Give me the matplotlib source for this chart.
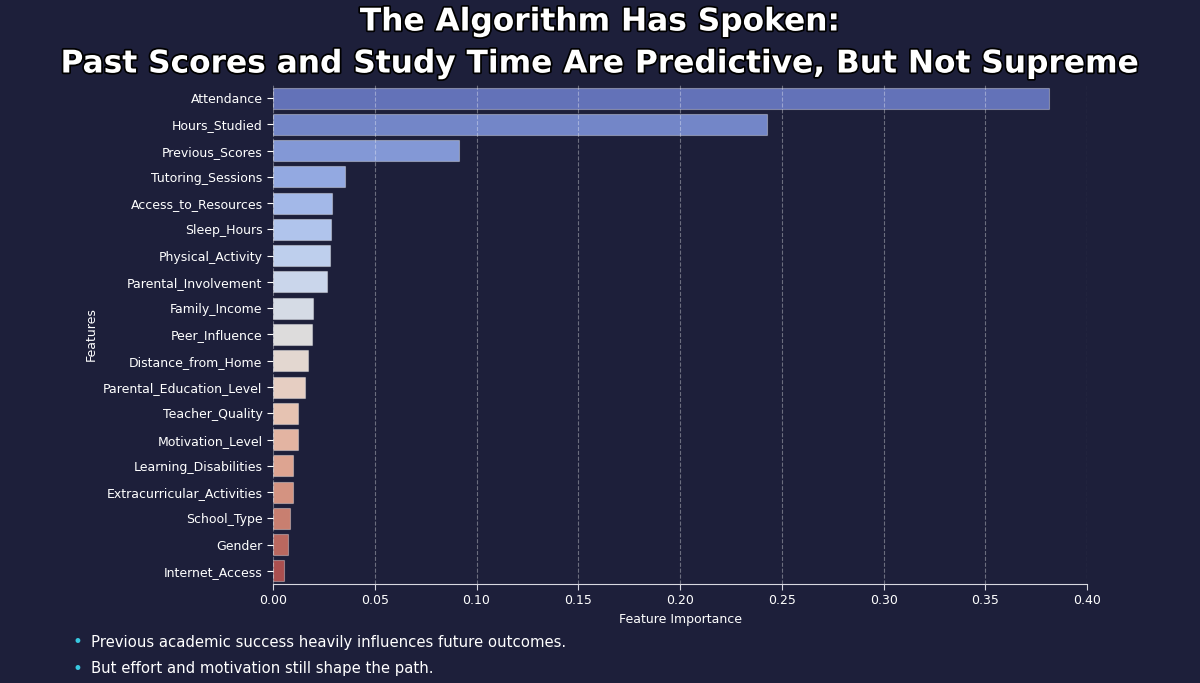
import pandas as pd
import numpy as np
import matplotlib
matplotlib.use("Agg")
import matplotlib.pyplot as plt
import matplotlib.patheffects as pe
import seaborn as sns

# Importancia de cada variable
features = [
    "Attendance", "Hours_Studied", "Previous_Scores", "Tutoring_Sessions",
    "Access_to_Resources", "Sleep_Hours", "Physical_Activity",
    "Parental_Involvement", "Family_Income", "Peer_Influence",
    "Distance_from_Home", "Parental_Education_Level", "Teacher_Quality",
    "Motivation_Level", "Learning_Disabilities", "Extracurricular_Activities",
    "School_Type", "Gender", "Internet_Access",
]
importance = [
    0.3813, 0.2428, 0.0914, 0.0354, 0.0290, 0.0285, 0.0282,
    0.0265, 0.0198, 0.0191, 0.0171, 0.0157, 0.0125,
    0.0121, 0.0097, 0.0097, 0.0083, 0.0075, 0.0053,
]
x_ticks = [0.00, 0.05, 0.10, 0.15, 0.20, 0.25, 0.30, 0.35, 0.40]

title_lines = ["The Algorithm Has Spoken:",
               "Past Scores and Study Time Are Predictive, But Not Supreme"]
bullets = ["Previous academic success heavily influences future outcomes.",
           "But effort and motivation still shape the path."]

df = pd.DataFrame({"feature": features, "importance": importance})

bg = "#1d1f3a"
fig = plt.figure(figsize=(12, 6.83), dpi=100, facecolor=bg)
ax = fig.add_axes([0.2275, 0.145, 0.906 - 0.2275, 0.8755 - 0.145])
ax.set_facecolor(bg)

sns.barplot(data=df, x="importance", y="feature", hue="feature",
            palette="coolwarm", legend=False, ax=ax, saturation=0.62,
            edgecolor=(1, 1, 1, 0.35), linewidth=0.8)

ax.set_xlim(0, 0.40)
ax.set_xticks(x_ticks)
ax.set_xticklabels([f"{t:.2f}" for t in x_ticks])
ax.grid(axis="x", linestyle="--", color="white", alpha=0.35, linewidth=0.8)
ax.grid(axis="y", visible=False)
ax.set_axisbelow(False)

for s in ["top", "right", "left"]:
    ax.spines[s].set_visible(False)
ax.spines["bottom"].set_color("#d8d8e0")
ax.tick_params(axis="both", colors="white", labelsize=9)
ax.tick_params(axis="y", length=4, color="white")
ax.tick_params(axis="x", length=4, color="#d8d8e0")

ax.set_xlabel("Feature Importance", color="white", fontsize=9)
ax.set_ylabel("Features", color="white", fontsize=9)
ax.yaxis.set_label_coords(-0.215, 0.5)

# Titulo
shadow = [pe.withStroke(linewidth=2.5, foreground="black")]
fig.text(0.5, 1 - 22 / 683, title_lines[0], ha="center", va="center",
         color="white", fontsize=22.5, fontweight="heavy", path_effects=shadow)
fig.text(0.5, 1 - 64 / 683, title_lines[1], ha="center", va="center",
         color="white", fontsize=22.5, fontweight="heavy", path_effects=shadow)

# Notas al pie
for i, txt in enumerate(bullets):
    y = 1 - (642 + 27 * i) / 683
    fig.text(77 / 1200, y, "•", color="#38c8e0", fontsize=12, ha="center", va="center")
    fig.text(91 / 1200, y, txt, color="white", fontsize=10.7, ha="left", va="center")

fig.savefig("out.png", dpi=100, facecolor=bg)
